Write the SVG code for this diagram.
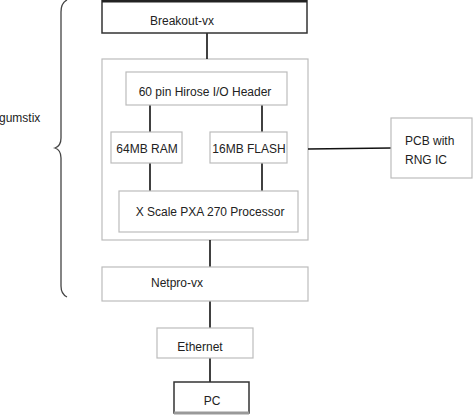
<svg xmlns="http://www.w3.org/2000/svg" width="474" height="415" viewBox="0 0 474 415">
<style>
.box{fill:#fff;stroke:#bcbcbc;stroke-width:1.2}
.dark{fill:#fff;stroke:#333;stroke-width:1.5}
.t{font-family:"Liberation Sans",Arial,sans-serif;font-size:12px;fill:#222}
.c{text-anchor:middle}
.ln{stroke:#111;stroke-width:1.6;fill:none}
</style>
<rect width="474" height="415" fill="#fff"/>
<g id="brace">
<path d="M67,0 Q61,3 61,12 L61,138 Q61,146 55,148 Q61,150 61,158 L61,286 Q61,294 67,297" fill="none" stroke="#444" stroke-width="1.3"/>
<text class="t" x="-1" y="122">gumstix</text>
</g>
<g id="gumstix">
<rect class="box" x="102" y="59" width="206" height="181"/>
</g>
<g id="connectors">
<line class="ln" x1="207" y1="33" x2="207" y2="59"/>
<line class="ln" x1="150" y1="105" x2="150" y2="132"/>
<line class="ln" x1="262" y1="105" x2="262" y2="132"/>
<line class="ln" x1="150" y1="163" x2="150" y2="191"/>
<line class="ln" x1="262" y1="163" x2="262" y2="191"/>
<line class="ln" x1="308" y1="149" x2="391" y2="148" stroke-width="1.2"/>
<line class="ln" x1="210" y1="240" x2="210" y2="267"/>
<line class="ln" x1="210" y1="301" x2="210" y2="328"/>
<line class="ln" x1="210" y1="358" x2="210" y2="382"/>
</g>
<g id="breakout">
<rect class="dark" x="102" y="-2" width="205" height="35"/>
<line x1="102" y1="1" x2="307" y2="1" stroke="#222" stroke-width="3"/>
<text class="t c" x="182" y="25">Breakout-vx</text>
</g>
<g id="hirose">
<rect class="box" x="126" y="72" width="161" height="33"/>
<text class="t c" x="205" y="96">60 pin Hirose I/O Header</text>
</g>
<g id="ram">
<rect class="box" x="111" y="132" width="71" height="31"/>
<text class="t c" x="147" y="153">64MB RAM</text>
</g>
<g id="flash">
<rect class="box" x="210" y="132" width="77" height="31"/>
<text class="t c" x="249" y="153">16MB FLASH</text>
</g>
<g id="processor">
<rect class="box" x="119" y="191" width="179" height="41"/>
<text class="t c" x="210" y="216">X Scale PXA 270 Processor</text>
</g>
<g id="pcb">
<rect class="box" x="391" y="118" width="81" height="60"/>
<text class="t" x="405" y="145">PCB with</text>
<text class="t" x="405" y="164">RNG IC</text>
</g>
<g id="netpro">
<rect class="box" x="102" y="267" width="206" height="34"/>
<text class="t c" x="177" y="287">Netpro-vx</text>
</g>
<g id="ethernet">
<rect class="box" x="157" y="328" width="96" height="30"/>
<text class="t c" x="200" y="351">Ethernet</text>
</g>
<g id="pc">
<rect class="dark" x="174" y="382" width="75" height="31"/>
<line x1="174" y1="413" x2="249" y2="413" stroke="#999" stroke-width="3"/>
<text class="t c" x="212" y="405">PC</text>
</g>
</svg>
